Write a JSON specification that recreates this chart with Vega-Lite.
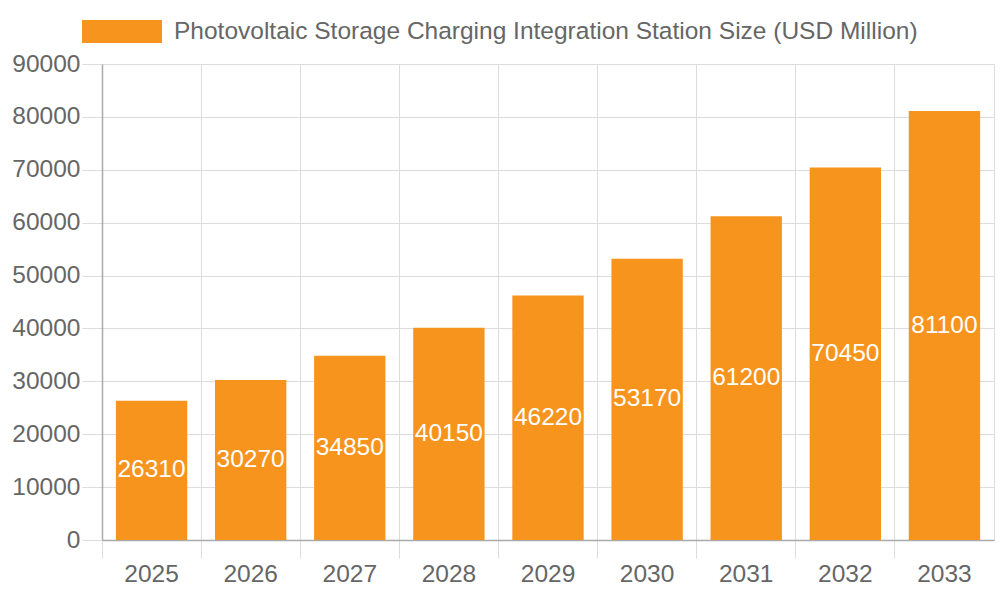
{
  "$schema": "https://vega.github.io/schema/vega-lite/v6.json",
  "autosize": "none",
  "width": 892,
  "height": 476,
  "padding": {"left": 102, "top": 64, "right": 6, "bottom": 60},
  "background": "white",
  "config": {
    "font": "Liberation Sans",
    "view": {"stroke": "#dddddd", "strokeWidth": 1}
  },
  "data": {
    "values": [
      {"year": "2025", "value": 26310, "series": "Photovoltaic Storage Charging Integration Station Size (USD Million)"},
      {"year": "2026", "value": 30270, "series": "Photovoltaic Storage Charging Integration Station Size (USD Million)"},
      {"year": "2027", "value": 34850, "series": "Photovoltaic Storage Charging Integration Station Size (USD Million)"},
      {"year": "2028", "value": 40150, "series": "Photovoltaic Storage Charging Integration Station Size (USD Million)"},
      {"year": "2029", "value": 46220, "series": "Photovoltaic Storage Charging Integration Station Size (USD Million)"},
      {"year": "2030", "value": 53170, "series": "Photovoltaic Storage Charging Integration Station Size (USD Million)"},
      {"year": "2031", "value": 61200, "series": "Photovoltaic Storage Charging Integration Station Size (USD Million)"},
      {"year": "2032", "value": 70450, "series": "Photovoltaic Storage Charging Integration Station Size (USD Million)"},
      {"year": "2033", "value": 81100, "series": "Photovoltaic Storage Charging Integration Station Size (USD Million)"}
    ]
  },
  "encoding": {
    "x": {
      "field": "year",
      "type": "ordinal",
      "scale": {"paddingInner": 0, "paddingOuter": 0},
      "axis": {
        "title": null,
        "labelAngle": 0,
        "labelFontSize": 24.5,
        "labelColor": "#666666",
        "labelPadding": 4,
        "bandPosition": 0,
        "labelOffset": 0,
        "grid": true,
        "gridColor": "#dddddd",
        "tickColor": "#dddddd",
        "tickSize": 18,
        "domainColor": "#aaaaaa",
        "domainWidth": 1.5
      }
    }
  },
  "resolve": {"scale": {"y": "independent"}},
  "layer": [
    {
      "mark": {"type": "bar", "color": "#F7941E", "width": {"band": 0.72}},
      "encoding": {
        "y": {
          "field": "value",
          "type": "quantitative",
          "scale": {"domain": [0, 90000], "nice": false},
          "axis": {
            "title": null,
            "values": [0, 10000, 20000, 30000, 40000, 50000, 60000, 70000, 80000, 90000],
            "format": "d",
            "labelFontSize": 24.5,
            "labelColor": "#666666",
            "labelPadding": 2,
            "grid": true,
            "gridColor": "#dddddd",
            "tickColor": "#dddddd",
            "tickSize": 20,
            "domainColor": "#aaaaaa",
            "domainWidth": 1.5
          }
        },
        "color": {
          "field": "series",
          "type": "nominal",
          "scale": {"range": ["#F7941E"]},
          "legend": {
            "title": null,
            "orient": "none",
            "legendX": -20,
            "legendY": -72.5,
            "padding": 0,
            "symbolType": "M-1,-0.2875H1V0.2875H-1Z",
            "symbolSize": 6400,
            "symbolStrokeWidth": 0,
            "symbolOpacity": 1,
            "labelFontSize": 24.5,
            "labelColor": "#666666",
            "labelOffset": 12,
            "labelLimit": 900
          }
        }
      }
    },
    {
      "mark": {"type": "text", "color": "white", "fontSize": 24.5, "baseline": "middle", "align": "center"},
      "encoding": {
        "y": {
          "field": "value",
          "type": "quantitative",
          "scale": {"domain": [0, 180000], "nice": false},
          "axis": null
        },
        "text": {"field": "value", "type": "quantitative", "format": "d"}
      }
    }
  ]
}
